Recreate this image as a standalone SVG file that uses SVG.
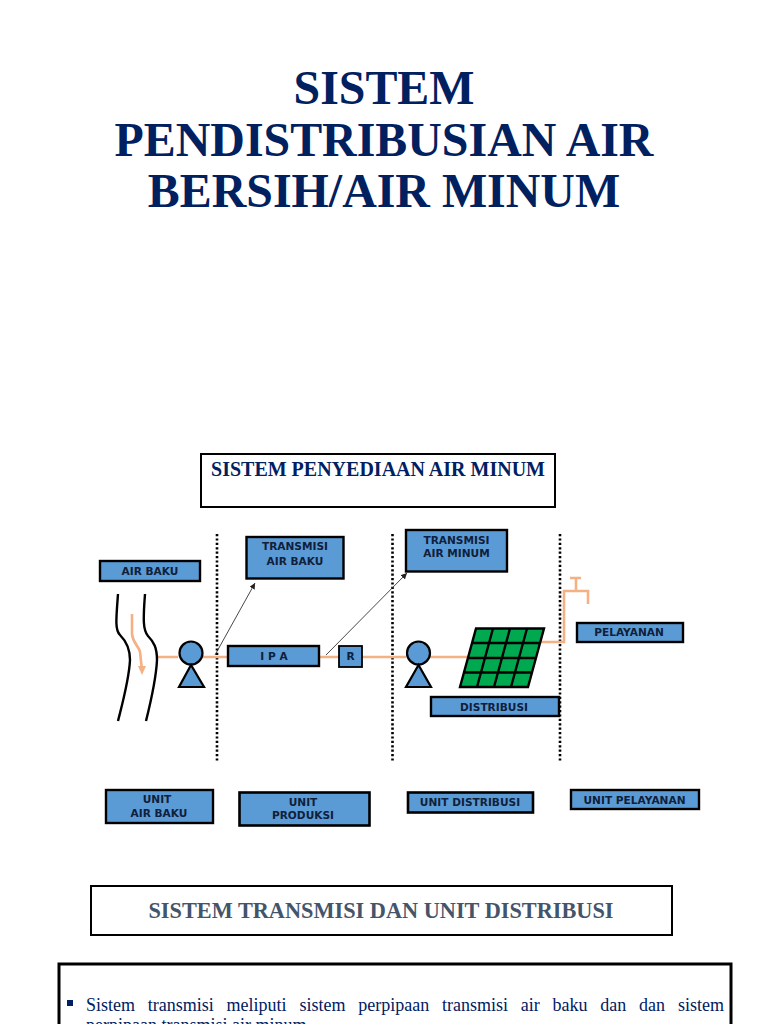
<svg xmlns="http://www.w3.org/2000/svg" width="768" height="1024" viewBox="0 0 768 1024">
<style>
.t{font-family:"Liberation Serif","Times New Roman",serif;font-weight:bold;fill:#002060;text-anchor:middle}
.b{fill:#5b9bd5;stroke:#000}
.l{font-family:"DejaVu Sans",sans-serif;font-weight:bold;font-size:10.6px;fill:#10203a;text-anchor:middle}
.p{fill:none;stroke:#f4b183;stroke-width:2.6}
.d{fill:none;stroke:#000;stroke-width:2.6;stroke-dasharray:2.2 2.2}
.k{fill:none;stroke:#000;stroke-width:2.4}
.a{stroke:#333;stroke-width:.9;fill:none;marker-end:url(#ah)}
.g{stroke:#000;stroke-width:2.4;fill:none}
.s{font-family:"Liberation Serif","Times New Roman",serif;font-size:18px;fill:#002060}
</style>
<defs><marker id="ah" markerWidth="7" markerHeight="7" refX="6" refY="3" orient="auto" markerUnits="userSpaceOnUse"><path d="M0,0L6,3L0,6z" fill="#222"/></marker></defs>
<rect width="768" height="1024" fill="#fff"/>
<g id="title" class="t" font-size="47.900"><text x="384" y="104">SISTEM</text><text x="384" y="156">PENDISTRIBUSIAN AIR</text><text x="384" y="207">BERSIH/AIR MINUM</text></g>
<g id="heading1"><rect x="201" y="454" width="354" height="53" fill="#fff" stroke="#000" stroke-width="2"/><text class="t" x="378" y="476" font-size="20">SISTEM PENYEDIAAN AIR MINUM</text></g>
<g id="connectors">
<path class="d" d="M217 534V762M392.500 534V762M560 534V762"/>
<path class="p" d="M157 657H178M202 657H228M319 657H339M362 657H406M430 657H470M537 642H564V591H588V604M570 578H581M576 578V591"/>
<path class="p" d="M132 614V634C133 644 139 646 140 652L142 670"/>
<path fill="#f4b183" d="M138 666L146 666L142 675z"/>
<path class="a" d="M215 655L255 583"/>
<path class="a" d="M326 655L407 573"/>
</g>
<g id="river"><path class="k" d="M118 594C116 620 115 630 120 635C126 641 130 648 130 660C129 680 122 705 118 721"/><path class="k" d="M145 594C143 620 143 630 148 636C154 642 157 648 157 660C156 680 150 705 146 721"/></g>
<g id="pump1"><circle cx="191" cy="653" r="11.500" fill="#5b9bd5" stroke="#000" stroke-width="2.200"/><path d="M191 665L179 687H204z" fill="#5b9bd5" stroke="#000" stroke-width="2.200"/></g>
<g id="pump2"><circle cx="418.500" cy="653" r="11.500" fill="#5b9bd5" stroke="#000" stroke-width="2.200"/><path d="M418.500 665L406 687H431z" fill="#5b9bd5" stroke="#000" stroke-width="2.200"/></g>
<g id="grid"><path d="M476 628.500H544L528 687H460z" fill="#00a94f"/><path class="g" d="M476 628.500H544L528 687H460zM472 643H540M468 658H536M464 672.500H532M493 628.500L477 687M510 628.500L494 687M527 628.500L511 687"/></g>
<g id="air-baku"><rect class="b" x="100" y="561" width="100" height="20" stroke-width="2.400"/><text class="l" x="150" y="575">AIR BAKU</text></g>
<g id="transmisi-air-baku"><rect class="b" x="246.500" y="537" width="97" height="41.500" stroke-width="2.400"/><text class="l" x="295" y="550">TRANSMISI</text><text class="l" x="295" y="565">AIR BAKU</text></g>
<g id="transmisi-air-minum"><rect class="b" x="406" y="530" width="101" height="41.500" stroke-width="2.400"/><text class="l" x="456.500" y="544">TRANSMISI</text><text class="l" x="456.500" y="557">AIR MINUM</text></g>
<g id="ipa"><rect class="b" x="228" y="646" width="91" height="20" stroke-width="2.400"/><text class="l" x="274" y="660">I P A</text></g>
<g id="r"><rect class="b" x="339" y="646" width="23" height="21" stroke-width="1.800"/><text class="l" x="350.500" y="660">R</text></g>
<g id="pelayanan"><rect class="b" x="577" y="623" width="106" height="19" stroke-width="2.400"/><text class="l" x="629" y="636">PELAYANAN</text></g>
<g id="distribusi"><rect class="b" x="431" y="697" width="128" height="19" stroke-width="2.400"/><text class="l" x="494" y="711">DISTRIBUSI</text></g>
<g id="unit-air-baku"><rect class="b" x="106" y="790" width="107" height="33" stroke-width="2.400"/><text class="l" x="157" y="803">UNIT</text><text class="l" x="159" y="817">AIR BAKU</text></g>
<g id="unit-produksi"><rect class="b" x="239.500" y="792.500" width="130" height="33" stroke-width="2.600"/><text class="l" x="303" y="806">UNIT</text><text class="l" x="303" y="819">PRODUKSI</text></g>
<g id="unit-distribusi"><rect class="b" x="408" y="792.500" width="125" height="20" stroke-width="2.600"/><text class="l" x="470" y="806">UNIT DISTRIBUSI</text></g>
<g id="unit-pelayanan"><rect class="b" x="571" y="790" width="128" height="19" stroke-width="2.400"/><text class="l" x="634.500" y="804">UNIT PELAYANAN</text></g>
<g id="heading2"><rect x="91" y="886" width="581" height="49" fill="#fff" stroke="#000" stroke-width="2"/><text x="381" y="918" font-size="22.300" font-family="Liberation Serif,serif" font-weight="bold" fill="#44546a" text-anchor="middle">SISTEM TRANSMISI DAN UNIT DISTRIBUSI</text></g>
<g id="textbox"><rect x="59" y="964" width="672" height="80" fill="#fff" stroke="#000" stroke-width="3"/><rect x="67" y="1000" width="6" height="6" fill="#002060"/>
<text class="s" x="86" y="1011" word-spacing="8.300">Sistem transmisi meliputi sistem perpipaan transmisi air baku dan dan sistem</text>
<text class="s" x="86" y="1031">perpipaan transmisi air minum</text></g>
</svg>
